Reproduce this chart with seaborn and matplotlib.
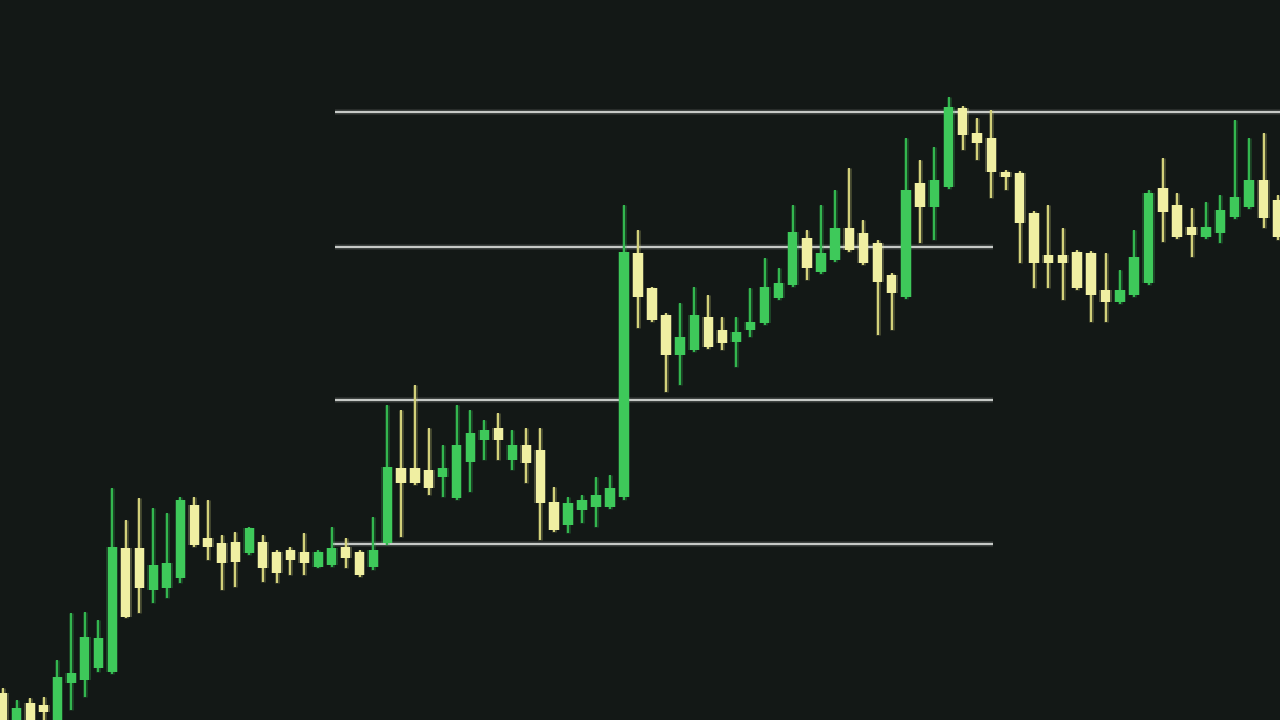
import numpy as np
import pandas as pd
import matplotlib
matplotlib.use("Agg")
import matplotlib.pyplot as plt
import seaborn as sns

# ---- data (price units) ----
opens = [27, -5, 17, 15, -2, 37, 40, 52, 48, 172, 172, 130, 132, 142, 215, 182, 177, 178, 167, 178,
         168, 170, 168, 153, 155, 173, 168, 153, 177, 252, 252, 250, 243, 222, 258, 280, 292, 260, 275, 270,
         218, 195, 210, 213, 213, 223, 467, 432, 405, 365, 370, 403, 390, 378, 390, 397, 422, 435, 482, 448,
         460, 492, 487, 477, 445, 423, 537, 513, 533, 612, 587, 582, 548, 547, 507, 465, 465, 468, 467, 430,
         418, 425, 437, 532, 515, 493, 483, 487, 503, 513, 540, 520]
closes = [-5, 12, -5, 8, 43, 47, 83, 82, 173, 103, 132, 155, 157, 220, 175, 173, 157, 158, 192, 152,
          147, 160, 157, 168, 172, 162, 145, 170, 253, 237, 237, 232, 252, 275, 287, 290, 280, 275, 257, 217,
          190, 217, 220, 225, 232, 468, 423, 400, 365, 383, 405, 373, 377, 388, 398, 433, 437, 488, 452, 467,
          492, 470, 457, 438, 427, 530, 513, 540, 613, 585, 577, 548, 543, 497, 457, 457, 457, 432, 425, 418,
          430, 463, 527, 508, 483, 485, 493, 510, 523, 540, 502, 483]
highs = [32, 20, 22, 23, 60, 107, 108, 100, 232, 200, 222, 212, 207, 223, 223, 220, 185, 188, 193, 185,
         170, 173, 187, 170, 193, 182, 170, 203, 315, 310, 335, 292, 275, 315, 310, 300, 307, 290, 292, 292,
         233, 223, 225, 243, 245, 515, 490, 433, 407, 417, 433, 425, 403, 403, 432, 462, 452, 515, 490, 515,
         530, 552, 500, 480, 447, 582, 560, 573, 623, 614, 602, 610, 550, 549, 509, 515, 492, 470, 469, 467,
         450, 490, 530, 562, 527, 512, 518, 525, 600, 582, 587, 525]
lows = [-5, -5, -5, 0, -5, 10, 23, 48, 46, 102, 107, 117, 122, 137, 173, 160, 130, 133, 165, 138,
        137, 145, 145, 152, 153, 152, 143, 150, 175, 183, 235, 225, 223, 220, 228, 260, 260, 250, 237, 180,
        188, 187, 197, 193, 211, 220, 392, 398, 328, 335, 368, 371, 370, 353, 383, 395, 420, 433, 440, 446,
        458, 468, 455, 385, 390, 421, 477, 480, 531, 570, 560, 522, 530, 457, 432, 432, 420, 430, 398, 398,
        416, 423, 435, 478, 481, 463, 481, 477, 501, 511, 492, 480]

# support / resistance levels and their spans (candle index)
levels = [608, 473, 320, 176]
level_starts = [24.2, 24.2, 24.2, 24.0]
level_ends = [92.0, 71.1, 71.1, 71.1]

df = pd.DataFrame({"open": opens, "high": highs, "low": lows, "close": closes})
df["idx"] = np.arange(len(df))
df["bull"] = df["close"] >= df["open"]

BG = "#131816"
GREEN = "#3ec95a"
GREEN_WICK = "#33b64f"
YELLOW = "#f0efa2"
YELLOW_WICK = "#d2d07a"
LINE = "#c6c9c6"

sns.set_theme(style="dark", rc={"axes.facecolor": BG, "figure.facecolor": BG})

fig = plt.figure(figsize=(12.8, 7.2), dpi=100)
ax = fig.add_axes([0, 0, 1, 1])
ax.set_facecolor(BG)

# slight perspective of the photographed screen: spacing grows to the right
K = 0.000337


def fwd(u):
    u = np.asarray(u, dtype=float)
    return u + K * u * u


def inv(v):
    v = np.asarray(v, dtype=float)
    return (-1.0 + np.sqrt(np.maximum(1.0 + 4.0 * K * v, 0.0))) / (2.0 * K)


ax.set_xscale("function", functions=(fwd, inv))

# level lines
for lv, s, e in zip(levels, level_starts, level_ends):
    ax.hlines(lv, s, e, color=LINE, lw=4, alpha=0.15, zorder=1)
    ax.hlines(lv, s, e, color=LINE, lw=1.6, zorder=2)

body_c = np.where(df["bull"], GREEN, YELLOW)
wick_c = np.where(df["bull"], GREEN_WICK, YELLOW_WICK)

# wicks (glow + core)
ax.vlines(df["idx"], df["low"], df["high"], colors=wick_c, lw=3.5, alpha=0.25, zorder=3)
ax.vlines(df["idx"], df["low"], df["high"], colors=wick_c, lw=1.5, zorder=4)

# bodies
bottom = np.minimum(df["open"], df["close"])
height = np.maximum(np.abs(df["close"] - df["open"]), 4)
ax.bar(df["idx"], height, bottom=bottom, width=0.85, color=body_c, alpha=0.25,
       linewidth=0, zorder=5)
ax.bar(df["idx"], height, bottom=bottom, width=0.66, color=body_c, linewidth=0, zorder=6)

ax.set_xlim(-0.22, 91.14)
ax.set_ylim(0, 720)
ax.axis("off")

fig.savefig("out.png", dpi=100, facecolor=BG)
